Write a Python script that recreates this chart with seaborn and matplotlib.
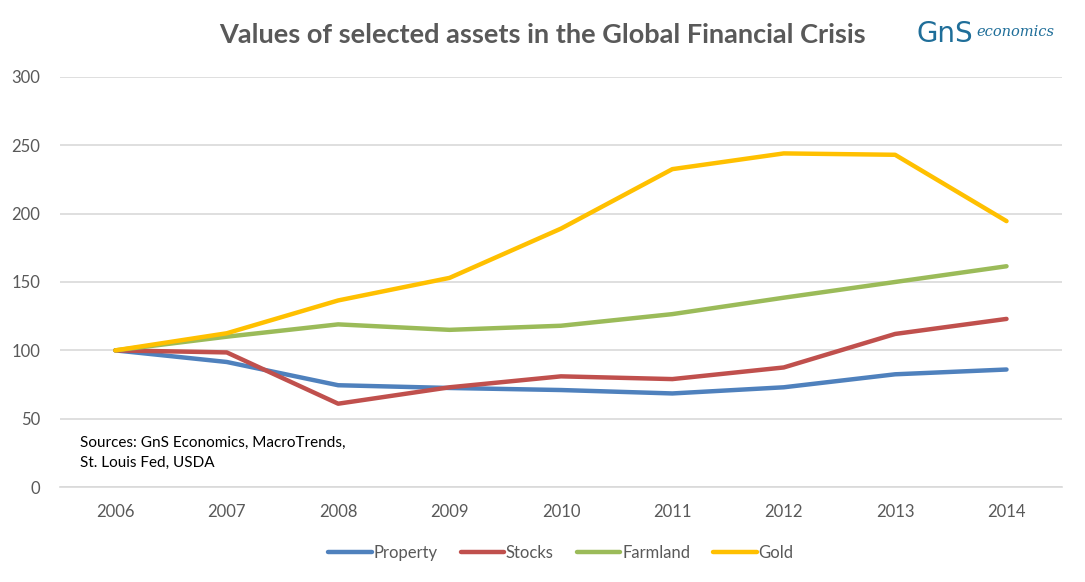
import pandas as pd
import numpy as np
import matplotlib.pyplot as plt
import seaborn as sns

# --- Data (index, 2006 = 100) ---
years = [2006, 2007, 2008, 2009, 2010, 2011, 2012, 2013, 2014]
property_vals = [100, 91.5, 74.5, 72.5, 71, 68.5, 73, 82.5, 86]
stocks_vals = [100, 98.5, 61, 73, 81, 79, 87.5, 112, 123]
farmland_vals = [100, 110, 119, 115, 118, 126.5, 138.5, 150, 161.5]
gold_vals = [100, 112.5, 136.5, 153, 189, 232.5, 244, 243, 194.5]

series_names = ["Property", "Stocks", "Farmland", "Gold"]
colors = ["#4F81BD", "#C0504D", "#9BBB59", "#FFC000"]

df = pd.DataFrame({
    "year": years * 4,
    "value": property_vals + stocks_vals + farmland_vals + gold_vals,
    "asset": np.repeat(series_names, len(years)),
})

# --- Style ---
sns.set_theme(style="white")
plt.rcParams["font.family"] = ["Lato", "DejaVu Sans"]
grey = "#595959"

fig = plt.figure(figsize=(10.85, 5.82), dpi=100)
ax = fig.add_axes([0.055, 0.163, 0.924, 0.705])

sns.lineplot(data=df, x="year", y="value", hue="asset", hue_order=series_names,
             palette=dict(zip(series_names, colors)), linewidth=3.2, ax=ax,
             solid_capstyle="round")

ax.set_xlim(2005.5, 2014.5)
ax.set_ylim(0, 300)
ax.set_yticks(range(0, 301, 50))
ax.set_xticks(years)
ax.set_xlabel("")
ax.set_ylabel("")
ax.yaxis.grid(True, color="#d9d9d9", linewidth=1.2)
ax.set_axisbelow(True)
for s in ["top", "right", "left"]:
    ax.spines[s].set_visible(False)
ax.spines["bottom"].set_color("#d9d9d9")
ax.spines["bottom"].set_linewidth(1.2)
ax.tick_params(axis="y", length=0, labelsize=12, labelcolor=grey, pad=14)
ax.tick_params(axis="x", length=0, labelsize=12, labelcolor=grey, pad=12)
# category boundary ticks
ax.set_xticks(np.arange(2005.5, 2015, 1), minor=True)
ax.tick_params(axis="x", which="minor", length=7, width=1.2, color="#d9d9d9")

fig.text(0.50, 0.94, "Values of selected assets in the Global Financial Crisis",
         ha="center", va="center", fontsize=19.5, fontweight="bold", color=grey)

# logo
fig.text(0.897, 0.942, "GnS", ha="right", va="center", fontsize=20,
         color="#1f6e99", family=["DejaVu Sans"])
fig.text(0.900, 0.945, "economics", ha="left", va="center", fontsize=10.5,
         style="italic", color="#1f6e99", family=["DejaVu Serif"])

ax.text(2006 - 0.32, 25, "Sources: GnS Economics, MacroTrends,\nSt. Louis Fed, USDA",
        ha="left", va="center", fontsize=11, color="black", linespacing=1.55)

ax.legend(loc="upper center", bbox_to_anchor=(0.5, -0.105), ncol=4, frameon=False,
          fontsize=12, handlelength=2.6, handletextpad=0.1, columnspacing=1.4,
          labelcolor=grey)

fig.savefig("out.png", dpi=100)
